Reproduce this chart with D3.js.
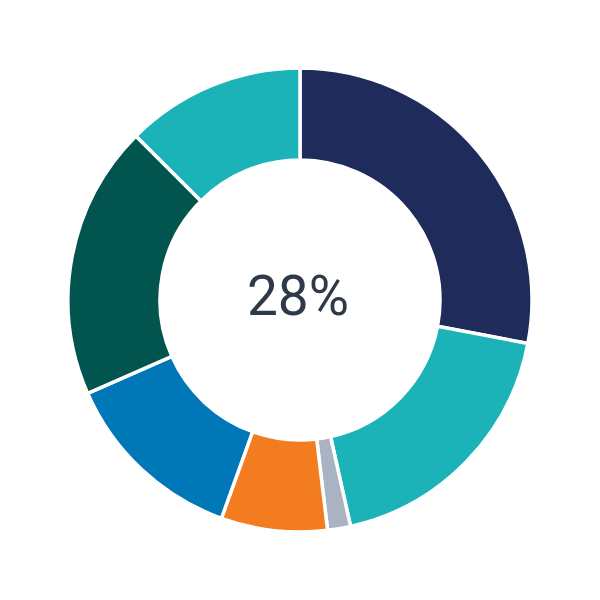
<!DOCTYPE html>
<html>
<head>
<meta charset="utf-8">
<script src="https://cdn.jsdelivr.net/npm/d3@7"></script>
<style>
  body { margin: 0; background: #fff; }
</style>
</head>
<body>
<div id="chart"></div>
<script>
// slice shares (percent), clockwise from 12 o'clock
var labels = ["A", "B", "C", "D", "E", "F", "G"];
var values = [28, 18.5, 1.6, 7.4, 12.9, 19.1, 12.5];
var colors = ["#1e2b5b", "#1bb3b7", "#a9b3c1", "#f47c20", "#0077b6", "#02544f", "#1bb3b7"];
var centerLabel = "28%";

var width = 600, height = 600;
var outerR = 232, innerR = 140;

var data = labels.map(function(l, i) { return { label: l, value: values[i] }; });

var color = d3.scaleOrdinal().domain(labels).range(colors);

var svg = d3.select("#chart").append("svg")
    .attr("width", width)
    .attr("height", height)
  .append("g")
    .attr("transform", "translate(" + 300 + "," + 300 + ")");

var pie = d3.pie()
    .value(function(d) { return d.value; })
    .sort(null);

var arc = d3.arc()
    .outerRadius(outerR)
    .innerRadius(innerR);

svg.selectAll("path")
    .data(pie(data))
  .enter().append("path")
    .attr("d", arc)
    .attr("fill", function(d) { return color(d.data.label); })
    .attr("stroke", "#fff")
    .attr("stroke-width", 3.5);

svg.append("text")
    .attr("x", -2)
    .attr("y", 15)
    .style("text-anchor", "middle")
    .style("font-family", "Roboto, sans-serif")
    .style("font-weight", 400)
    .style("font-size", "55px")
    .style("fill", "#2f3a48")
    .text(centerLabel);
</script>
</body>
</html>
